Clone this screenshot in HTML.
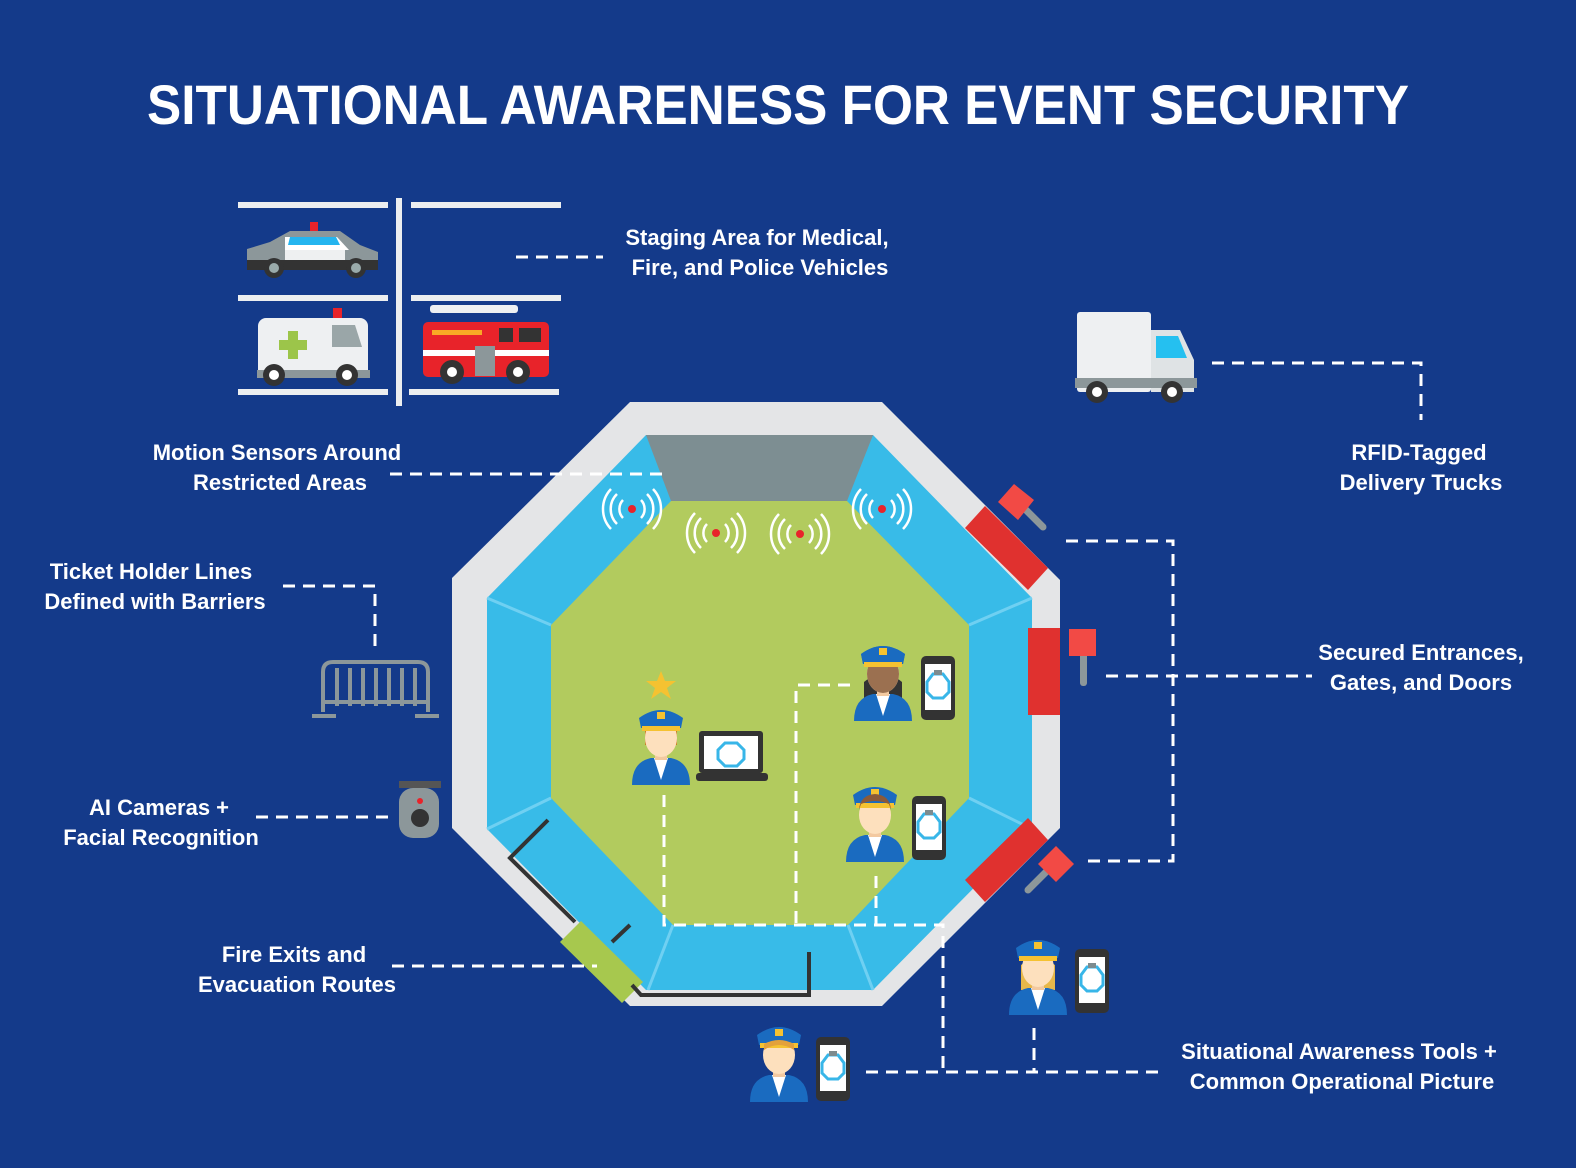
<!DOCTYPE html>
<html><head><meta charset="utf-8"><style>
html,body{margin:0;padding:0;background:#143a8a;}
svg{display:block}
text{font-family:"Liberation Sans",sans-serif;font-weight:bold;fill:#fff;}
</style></head><body>
<svg width="1576" height="1168" viewBox="0 0 1576 1168" xmlns="http://www.w3.org/2000/svg">
<defs>
<g id="off">
 <path d="M-29,45 Q-29,22 -10,18 L10,18 Q29,22 29,45 Z" fill="#1a6bc0"/>
 <path d="M-7,18 L0,40 L7,18 Z" fill="#fff"/>
 <rect x="-6" y="8" width="12" height="12" fill="#f3c9a0"/>
 <ellipse cx="0" cy="-2" rx="16" ry="19" fill="#fde0bd"/>
 <path d="M-22,-22 Q0,-38 22,-22 L20,-12 L-20,-12 Z" fill="#1a6bc0"/>
 <rect x="-19" y="-14" width="38" height="5" fill="#f5c231"/>
 <rect x="-4" y="-28" width="8" height="7" fill="#f5c231"/>
</g>
<g id="phone">
 <rect x="-17" y="-32" width="34" height="64" rx="5" fill="#333"/>
 <rect x="-13" y="-24" width="26" height="46" fill="#fff"/>
 <polygon points="-5,-14 5,-14 11,-6 11,4 5,10 -5,10 -11,4 -11,-6" fill="none" stroke="#38b6e8" stroke-width="3"/>
 <rect x="-4" y="-18" width="8" height="5" fill="#7d8b8e"/>
</g>
<g id="sig">
 <circle r="4" fill="#e8232a"/>
 <g fill="none" stroke="#fff" stroke-width="2.5">
  <path d="M-9,-9 A13,13 0 0 0 -9,9"/><path d="M9,-9 A13,13 0 0 1 9,9"/>
  <path d="M-15,-15 A21,21 0 0 0 -15,15"/><path d="M15,-15 A21,21 0 0 1 15,15"/>
  <path d="M-21,-20 A29,29 0 0 0 -21,20"/><path d="M21,-20 A29,29 0 0 1 21,20"/>
 </g>
</g>
</defs>
<rect width="1576" height="1168" fill="#143a8a"/>
<text x="778" y="124" text-anchor="middle" font-size="56" textLength="1262" lengthAdjust="spacingAndGlyphs">SITUATIONAL AWARENESS FOR EVENT SECURITY</text>

<!-- parking -->
<g fill="#eceef0">
<rect x="238" y="202" width="150" height="6"/><rect x="411" y="202" width="150" height="6"/>
<rect x="238" y="295" width="150" height="6"/><rect x="411" y="295" width="150" height="6"/>
<rect x="238" y="389" width="150" height="6"/><rect x="409" y="389" width="150" height="6"/>
<rect x="396" y="198" width="6" height="208"/>
</g>
<!-- police car -->
<path d="M247,249 L270,242 L290,231 L340,231 L360,245 L378,252 L378,270 L247,270 Z" fill="#8c979a"/>
<path d="M285,237 L337,237 L349,250 L285,250 Z" fill="#fff"/><path d="M290,237 L336,237 L340,245 L288,245Z" fill="#25b5ef"/>
<rect x="285" y="250" width="60" height="18" fill="#eef0f1"/>
<rect x="310" y="222" width="8" height="9" fill="#e8232a"/>
<rect x="247" y="260" width="131" height="10" fill="#333"/>
<circle cx="274" cy="268" r="10" fill="#333"/><circle cx="274" cy="268" r="5" fill="#9aa"/>
<circle cx="356" cy="268" r="10" fill="#333"/><circle cx="356" cy="268" r="5" fill="#9aa"/>
<!-- ambulance -->
<rect x="258" y="318" width="110" height="60" rx="8" fill="#eef0f2"/>
<path d="M332,325 L355,325 L362,347 L332,347Z" fill="#9aa6a8"/>
<rect x="288" y="331" width="10" height="28" fill="#9cc54a"/><rect x="279" y="340" width="28" height="10" fill="#9cc54a"/>
<rect x="333" y="308" width="9" height="10" fill="#e8232a"/>
<rect x="257" y="370" width="113" height="8" fill="#8c979a"/>
<circle cx="274" cy="375" r="11" fill="#333"/><circle cx="274" cy="375" r="5" fill="#fff"/>
<circle cx="347" cy="375" r="11" fill="#333"/><circle cx="347" cy="375" r="5" fill="#fff"/>
<!-- fire truck -->
<rect x="430" y="305" width="88" height="8" rx="3" fill="#eef0f2"/>
<rect x="423" y="322" width="126" height="55" rx="5" fill="#e8232a"/>
<rect x="423" y="350" width="126" height="6" fill="#fff"/>
<rect x="432" y="330" width="50" height="5" fill="#f9a825"/>
<rect x="499" y="328" width="14" height="14" fill="#333"/><rect x="519" y="328" width="22" height="14" fill="#333"/>
<rect x="475" y="346" width="20" height="30" fill="#8c979a"/>
<circle cx="452" cy="372" r="12" fill="#333"/><circle cx="452" cy="372" r="5" fill="#fff"/>
<circle cx="518" cy="372" r="12" fill="#333"/><circle cx="518" cy="372" r="5" fill="#fff"/>
<!-- truck -->
<rect x="1077" y="312" width="74" height="80" rx="3" fill="#eef0f2"/>
<path d="M1151,330 L1180,330 L1194,360 L1194,392 L1151,392Z" fill="#dfe3e5"/>
<path d="M1156,336 L1178,336 L1187,358 L1156,358Z" fill="#25c0f0"/>
<rect x="1075" y="378" width="122" height="10" fill="#8c979a"/>
<circle cx="1097" cy="392" r="11" fill="#333"/><circle cx="1097" cy="392" r="5" fill="#fff"/>
<circle cx="1172" cy="392" r="11" fill="#333"/><circle cx="1172" cy="392" r="5" fill="#fff"/>

<!-- stadium -->
<polygon points="630,402 882,402 1060,580 1060,828 882,1006 630,1006 452,828 452,578" fill="#e4e5e7"/>
<polygon points="646,435 873,435 1032,598 1032,829 873,990 646,990 487,829 487,598" fill="#38bbe8"/>
<polygon points="646,435 873,435 847,501 671,501" fill="#7d8e92"/>
<polygon points="671,501 847,501 969,625 969,798 848,925 673,925 551,798 551,625" fill="#b2cb5e"/>
<g stroke="#6fd0f2" stroke-width="3">
<line x1="551" y1="625" x2="487" y2="598"/><line x1="551" y1="798" x2="487" y2="829"/>
<line x1="969" y1="625" x2="1032" y2="598"/><line x1="969" y1="798" x2="1032" y2="829"/>
<line x1="673" y1="925" x2="648" y2="990"/><line x1="848" y1="925" x2="873" y2="990"/>
</g>
<!-- red entrances -->
<polygon points="965,528 985,506 1048,568 1028,590" fill="#e0312f"/>
<rect x="1028" y="628" width="32" height="87" fill="#e0312f"/>
<polygon points="965,880 1028,818 1048,840 985,902" fill="#e0312f"/>
<polygon points="560,942 581,921 643,982 622,1003" fill="#a7c84e"/>
<!-- gate signs -->
<line x1="1022" y1="506" x2="1043" y2="527" stroke="#8c979a" stroke-width="7" stroke-linecap="round"/>
<polygon points="1014,484 1034,500 1018,520 998,502" fill="#f24a45"/>
<rect x="1080" y="650" width="7" height="36" rx="3" fill="#8c979a"/>
<rect x="1069" y="629" width="27" height="27" fill="#f24a45"/>
<line x1="1028" y1="890" x2="1048" y2="870" stroke="#8c979a" stroke-width="7" stroke-linecap="round"/>
<polygon points="1056,846 1074,864 1056,882 1038,864" fill="#f24a45"/>
<!-- route lines -->
<g fill="none" stroke="#333" stroke-width="4">
<polyline points="548,820 510,858 575,922"/>
<line x1="630" y1="925" x2="612" y2="942"/>
<polyline points="632,985 641,995 809,995 809,952"/>
</g>
<!-- sensors -->
<use href="#sig" x="632" y="509"/><use href="#sig" x="716" y="533"/><use href="#sig" x="800" y="534"/><use href="#sig" x="882" y="509"/>

<!-- dashed connectors -->
<g fill="none" stroke="#fff" stroke-width="3" stroke-dasharray="12 8">
<line x1="516" y1="257" x2="603" y2="257"/>
<line x1="390" y1="474" x2="665" y2="474"/>
<polyline points="283,586 375,586 375,648"/>
<line x1="256" y1="817" x2="390" y2="817"/>
<line x1="392" y1="966" x2="597" y2="966"/>
<polyline points="1212,363 1421,363 1421,420"/>
<polyline points="1066,541 1173,541 1173,861 1088,861"/>
<line x1="1106" y1="676" x2="1312" y2="676"/>
<line x1="866" y1="1072" x2="1158" y2="1072"/>
<polyline points="664,795 664,925 943,925 943,1072"/>
<polyline points="850,685 796,685 796,925"/>
<line x1="876" y1="876" x2="876" y2="925"/>
<line x1="1034" y1="1028" x2="1034" y2="1072"/>
</g>

<!-- barrier -->
<g stroke="#8c979a" stroke-width="4" fill="none">
<path d="M323,712 L323,672 Q323,662 333,662 L418,662 Q428,662 428,672 L428,712"/>
<line x1="337" y1="668" x2="337" y2="706"/><line x1="350" y1="668" x2="350" y2="706"/><line x1="363" y1="668" x2="363" y2="706"/><line x1="376" y1="668" x2="376" y2="706"/><line x1="389" y1="668" x2="389" y2="706"/><line x1="402" y1="668" x2="402" y2="706"/><line x1="415" y1="668" x2="415" y2="706"/>
<line x1="323" y1="702" x2="428" y2="702"/>
<line x1="312" y1="716" x2="336" y2="716"/><line x1="415" y1="716" x2="439" y2="716"/>
</g>
<!-- camera -->
<rect x="399" y="781" width="42" height="7" fill="#555"/>
<rect x="399" y="788" width="40" height="50" rx="14" fill="#8c979a"/>
<circle cx="420" cy="818" r="9" fill="#333"/><circle cx="420" cy="801" r="3" fill="#e8232a"/>

<!-- officers -->
<polygon points="661,671 665,681 676,681 667,688 671,699 661,692 651,699 655,688 646,681 657,681" fill="#f5c231"/>
<path d="M645,745 L645,725 Q661,712 677,725 L677,745Z" fill="#c87e20"/>
<use href="#off" x="661" y="740"/>
<rect x="699" y="731" width="64" height="42" rx="3" fill="#333"/><rect x="704" y="736" width="54" height="33" fill="#fff"/>
<polygon points="725,743 737,743 744,750 744,759 737,766 725,766 718,759 718,750" fill="none" stroke="#38b6e8" stroke-width="3"/>
<rect x="696" y="773" width="72" height="8" rx="3" fill="#333"/>
<path d="M864,705 L864,682 Q883,666 902,682 L902,705Z" fill="#333"/>
<use href="#off" x="883" y="676"/>
<ellipse cx="883" cy="674" rx="16" ry="19" fill="#9b7050"/>
<path d="M861,654 Q883,638 905,654 L903,664 L863,664Z" fill="#1a6bc0"/><rect x="864" y="662" width="38" height="5" fill="#f5c231"/><rect x="879" y="648" width="8" height="7" fill="#f5c231"/>
<use href="#phone" x="938" y="688"/>
<use href="#off" x="875" y="817"/>
<path d="M859,810 Q860,795 875,794 Q890,795 891,810 L889,804 Q875,798 861,804Z" fill="#8a5a3b"/>
<use href="#phone" x="929" y="828"/>
<path d="M1021,990 L1021,965 Q1038,952 1055,965 L1055,990Z" fill="#e7b84a"/>
<use href="#off" x="1038" y="970"/>
<use href="#phone" x="1092" y="981"/>
<use href="#off" x="779" y="1057"/>
<path d="M764,1050 Q779,1040 794,1050 L794,1044 Q779,1036 764,1044Z" fill="#e3a13b"/>
<use href="#phone" x="833" y="1069"/>

<!-- labels -->
<g font-size="22" text-anchor="middle">
<text x="757" y="245">Staging Area for Medical,</text>
<text x="760" y="275">Fire, and Police Vehicles</text>
<text x="277" y="460">Motion Sensors Around</text>
<text x="280" y="490">Restricted Areas</text>
<text x="151" y="579">Ticket Holder Lines</text>
<text x="155" y="609">Defined with Barriers</text>
<text x="159" y="815">AI Cameras +</text>
<text x="161" y="845">Facial Recognition</text>
<text x="294" y="962">Fire Exits and</text>
<text x="297" y="992">Evacuation Routes</text>
<text x="1419" y="460">RFID-Tagged</text>
<text x="1421" y="490">Delivery Trucks</text>
<text x="1421" y="660">Secured Entrances,</text>
<text x="1421" y="690">Gates, and Doors</text>
<text x="1339" y="1059">Situational Awareness Tools +</text>
<text x="1342" y="1089">Common Operational Picture</text>
</g>
</svg>
</body></html>
